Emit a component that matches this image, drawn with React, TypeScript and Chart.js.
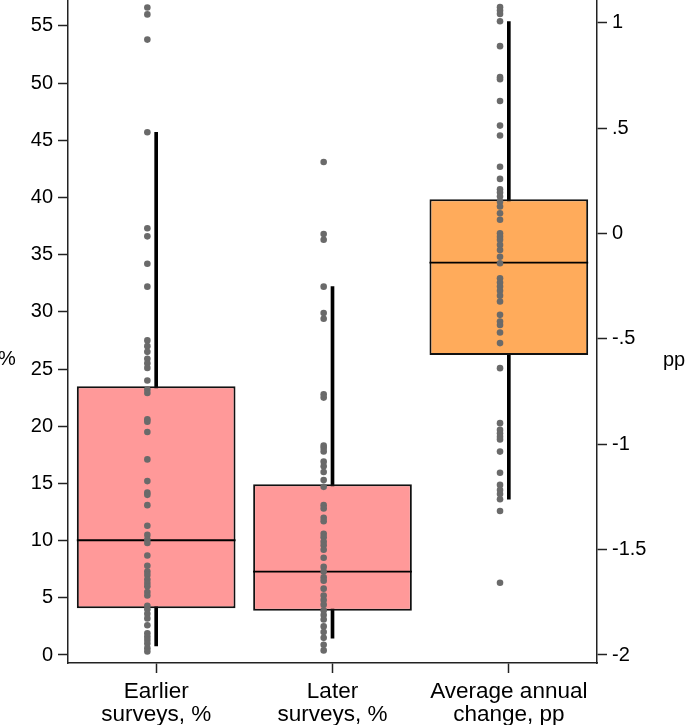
import React, { useEffect, useRef } from "react";
import { Chart, registerables } from "chart.js";

Chart.register(...registerables);

// ---- data ----
const categories: string[][] = [
  ["Earlier", "surveys, %"],
  ["Later", "surveys, %"],
  ["Average annual", "change, pp"],
];

const earlierPts = [
  56.6, 56.0, 53.8, 45.7, 37.3, 36.6, 34.2, 32.2, 27.5, 27.0, 26.5, 25.9, 25.5, 25.1,
  24.0, 23.2, 22.9, 20.6, 20.4, 19.5, 17.1, 15.2, 14.2, 14.0, 13.1, 11.3, 10.5, 10.1,
  9.8, 8.7, 7.8, 7.3, 7.0, 6.6, 6.3, 6.0, 5.5, 5.2, 4.3, 4.0, 3.6, 3.2, 2.6, 1.9, 1.6,
  1.3, 1.0, 0.6, 0.3,
];

const laterPts = [
  43.1, 36.8, 36.3, 32.2, 29.9, 29.4, 22.8, 22.5, 18.3, 18.1, 17.8, 16.9, 16.5, 16.0,
  15.3, 14.7, 13.1, 12.8, 12.0, 11.7, 10.6, 10.3, 9.9, 9.6, 9.2, 8.5, 7.7, 7.3, 6.8,
  6.5, 5.8, 5.2, 4.8, 4.4, 3.9, 3.5, 3.1, 2.5, 2.0, 1.5, 0.9, 0.4,
];

const changePts = [
  1.074, 1.058, 1.042, 1.007, 0.889, 0.742, 0.732, 0.629, 0.512, 0.465, 0.317, 0.259,
  0.21, 0.194, 0.175, 0.151, 0.128, 0.096, 0.065, 0.001, -0.015, -0.03, -0.054, -0.078,
  -0.11, -0.141, -0.212, -0.233, -0.252, -0.272, -0.295, -0.323, -0.386, -0.418, -0.434,
  -0.47, -0.52, -0.639, -0.9, -0.932, -0.948, -0.964, -0.977, -1.035, -1.135, -1.193,
  -1.217, -1.236, -1.261, -1.317, -1.657,
];

const boxQ1 = [4.08, 3.87, -0.576];
const boxQ3 = [23.5, 14.92, 0.163];
const medians = [10.03, 7.28, -0.138];
const whiskLow = [0.79, 1.46, -1.261];
const whiskHigh = [45.7, 32.2, 1.006];

const leftTicks = [0, 5, 10, 15, 20, 25, 30, 35, 40, 45, 50, 55];
const rightTicks = [-2, -1.5, -1, -0.5, 0, 0.5, 1];
const rightTickLabels = ["-2", "-1.5", "-1", "-.5", "0", ".5", "1"];
const axisUnits = ["%", "pp"];

const axisOf = ["y", "y", "y2"];

// ---- styles ----
const FONT = "'Liberation Sans', Arial, Helvetica, sans-serif";
const PINK = "#ff9999";
const ORANGE = "#ffab5b";
const DOT = "#6a6a6a";
const DOT_OFFSET = -0.05;

const medianPlugin = {
  id: "medianLines",
  afterDatasetDraw(chart: any, args: any) {
    const ds = chart.data.datasets[args.index];
    if (!ds.isBox) return;
    const ctx = chart.ctx;
    args.meta.data.forEach((el: any, i: number) => {
      if (ds.data[i] == null) return;
      const scale = chart.scales[axisOf[i]];
      const y = scale.getPixelForValue(medians[i]);
      const { x, width } = el.getProps(["x", "width"], true);
      ctx.save();
      ctx.strokeStyle = "#000";
      ctx.lineWidth = 1.8;
      ctx.beginPath();
      ctx.moveTo(x - width / 2, y);
      ctx.lineTo(x + width / 2, y);
      ctx.stroke();
      ctx.restore();
    });
  },
};

const unitLabelPlugin = {
  id: "unitLabels",
  afterDraw(chart: any) {
    const ctx = chart.ctx;
    const area = chart.chartArea;
    ctx.save();
    ctx.fillStyle = "#000";
    ctx.font = `20px ${FONT}`;
    ctx.textBaseline = "alphabetic";
    ctx.textAlign = "left";
    ctx.fillText(axisUnits[0], -2, 365);
    ctx.fillText(axisUnits[1], area.right + 66, 366);
    ctx.restore();
  },
};

export default function App() {
  const ref = useRef<HTMLCanvasElement | null>(null);

  useEffect(() => {
    if (!ref.current) return;
    const pick = (arrA: number[], arrB: number[], onRight: boolean) =>
      categories.map((_, i) =>
        (axisOf[i] === "y2") === onRight ? [arrA[i], arrB[i]] : null
      );

    const dots = (pts: number[], idx: number, axis: string) => ({
      type: "scatter",
      data: pts.map((v) => ({ x: idx + DOT_OFFSET, y: v })),
      xAxisID: "xd",
      yAxisID: axis,
      pointRadius: 3.3,
      pointBackgroundColor: DOT,
      pointBorderWidth: 0,
      order: 1,
    });

    const axisCommon = {
      grid: {
        display: true,
        offset: false,
        drawOnChartArea: false,
        drawTicks: true,
        tickLength: 10,
        tickColor: "#222",
        tickWidth: 1.5,
      },
      border: { display: true, color: "#222", width: 1.5 },
    };

    const chart = new Chart(ref.current, {
      type: "bar",
      data: {
        labels: categories,
        datasets: [
          {
            type: "bar",
            data: pick(whiskLow, whiskHigh, false) as any,
            yAxisID: "y",
            backgroundColor: "#000",
            barThickness: 3,
            grouped: false,
            order: 3,
          } as any,
          {
            type: "bar",
            data: pick(whiskLow, whiskHigh, true) as any,
            yAxisID: "y2",
            backgroundColor: "#000",
            barThickness: 3,
            grouped: false,
            order: 3,
          } as any,
          {
            type: "bar",
            isBox: true,
            data: pick(boxQ1, boxQ3, false) as any,
            yAxisID: "y",
            backgroundColor: PINK,
            borderColor: "#111",
            borderWidth: 2,
            borderSkipped: false,
            grouped: false,
            barPercentage: 0.9,
            categoryPercentage: 1,
            order: 2,
          } as any,
          {
            type: "bar",
            isBox: true,
            data: pick(boxQ1, boxQ3, true) as any,
            yAxisID: "y2",
            backgroundColor: ORANGE,
            borderColor: "#111",
            borderWidth: 2,
            borderSkipped: false,
            grouped: false,
            barPercentage: 0.9,
            categoryPercentage: 1,
            order: 2,
          } as any,
          dots(earlierPts, 0, "y") as any,
          dots(laterPts, 1, "y") as any,
          dots(changePts, 2, "y2") as any,
        ],
      },
      options: {
        animation: false,
        responsive: true,
        maintainAspectRatio: false,
        devicePixelRatio: 1,
        layout: { padding: 0, autoPadding: false },
        plugins: {
          legend: { display: false },
          tooltip: { enabled: false },
        },
        scales: {
          x: {
            type: "category",
            offset: true,
            ...axisCommon,
            ticks: {
              color: "#000",
              font: { family: FONT, size: 22.5, lineHeight: 1.02 },
              padding: 7,
              maxRotation: 0,
              autoSkip: false,
            },
            afterFit(scale: any) {
              scale.height = 62;
              scale.paddingLeft = 0;
              scale.paddingRight = 0;
            },
          },
          xd: {
            type: "linear",
            display: false,
            offset: false,
            grid: { offset: false },
            min: -0.5,
            max: 2.5,
          },
          y: {
            type: "linear",
            position: "left",
            min: -0.7,
            max: 57.26,
            afterBuildTicks(scale: any) {
              scale.ticks = leftTicks.map((v) => ({ value: v }));
            },
            ...axisCommon,
            ticks: {
              color: "#000",
              font: { family: FONT, size: 20 },
              padding: 5,
            },
            afterFit(scale: any) {
              scale.width = 68;
              scale.paddingTop = 0;
              scale.paddingBottom = 0;
            },
          },
          y2: {
            type: "linear",
            position: "right",
            min: -2.038,
            max: 1.108,
            afterBuildTicks(scale: any) {
              scale.ticks = rightTicks.map((v) => ({ value: v }));
            },
            ...axisCommon,
            ticks: {
              color: "#000",
              font: { family: FONT, size: 20 },
              padding: 5,
              callback: (v: any) => {
                const k = rightTicks.indexOf(Number(v));
                return k >= 0 ? rightTickLabels[k] : "";
              },
            },
            afterFit(scale: any) {
              scale.width = 88;
              scale.paddingTop = 0;
              scale.paddingBottom = 0;
            },
          },
        },
      } as any,
      plugins: [medianPlugin, unitLabelPlugin],
    });
    return () => chart.destroy();
  }, []);

  return (
    <div
      style={{
        position: "absolute",
        left: 0,
        top: 0,
        width: 685,
        height: 725,
        background: "#fff",
      }}
    >
      <canvas ref={ref} />
    </div>
  );
}
